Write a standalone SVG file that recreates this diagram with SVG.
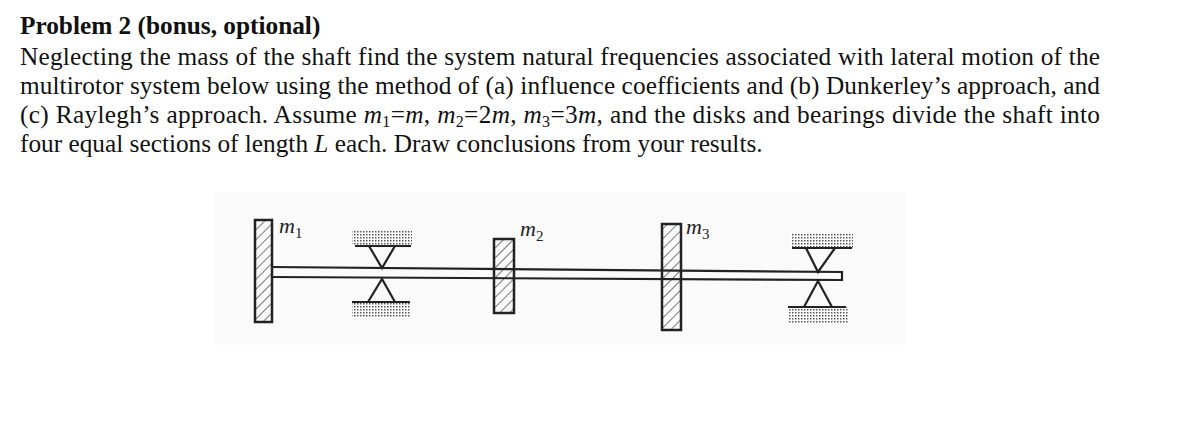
<svg xmlns="http://www.w3.org/2000/svg" width="1179" height="436" viewBox="0 0 1179 436">
<defs>
<pattern id="hatch" width="7" height="7" patternUnits="userSpaceOnUse" patternTransform="rotate(45)"><line x1="0" y1="0" x2="0" y2="7" stroke="#222" stroke-width="1.2"/></pattern>
<pattern id="dots" width="3" height="3" patternUnits="userSpaceOnUse"><rect width="3" height="3" fill="#fff"/><rect width="1.5" height="1.5" fill="#555"/></pattern>
</defs>
<style>
.t{font-family:"Liberation Serif",serif;font-size:25.3px;fill:#111}
.i{font-style:italic}
.s{font-size:16px}
.m{font-family:"Liberation Serif",serif;font-size:22px;font-style:italic;fill:#222}
.disk{fill:url(#hatch);stroke:#222;stroke-width:2.5}
.ln{stroke:#222;stroke-width:2.2;fill:none}
</style>
<rect width="1179" height="436" fill="#fff"/>
<text class="t" x="20" y="34" font-weight="bold">Problem 2 (bonus, optional)</text>
<text class="t" x="20" y="65" textLength="1080" lengthAdjust="spacing">Neglecting the mass of the shaft find the system natural frequencies associated with lateral motion of the</text>
<text class="t" x="20" y="94" textLength="1080" lengthAdjust="spacing">multirotor system below using the method of (a) influence coefficients and (b) Dunkerley’s approach, and</text>
<text class="t" x="20" y="123" textLength="1080" lengthAdjust="spacing">(c) Raylegh’s approach. Assume <tspan class="i">m</tspan><tspan class="s" dy="4">1</tspan><tspan dy="-4">=</tspan><tspan class="i">m</tspan>, <tspan class="i">m</tspan><tspan class="s" dy="4">2</tspan><tspan dy="-4">=2</tspan><tspan class="i">m</tspan>, <tspan class="i">m</tspan><tspan class="s" dy="4">3</tspan><tspan dy="-4">=3</tspan><tspan class="i">m</tspan>, and the disks and bearings divide the shaft into</text>
<text class="t" x="20" y="152">four equal sections of length <tspan class="i">L</tspan> each.  Draw conclusions from your results.</text>
<rect x="215" y="193" width="690" height="152" fill="#fafafa"/>
<g id="connectors">
<path class="ln" d="M272 267 L842 272 L842 280 L272 277" fill="#fff"/>
</g>
<g id="m1"><rect class="disk" x="255" y="220" width="17" height="102"/><text class="m" x="279" y="233">m<tspan font-size="15" font-style="normal" dy="5">1</tspan></text></g>
<g id="m2"><rect class="disk" x="494" y="239" width="20" height="74"/><text class="m" x="520" y="236">m<tspan font-size="15" font-style="normal" dy="5">2</tspan></text></g>
<g id="m3"><rect class="disk" x="662" y="224" width="19" height="106"/><text class="m" x="686" y="234">m<tspan font-size="15" font-style="normal" dy="5">3</tspan></text></g>
<g id="bearing1">
<rect x="352" y="231" width="60" height="15" fill="url(#dots)"/><line class="ln" x1="355" y1="246" x2="411" y2="246"/>
<path class="ln" d="M369 246 L382 268 L395 246"/>
<rect x="352" y="302" width="58" height="16" fill="url(#dots)"/><line class="ln" x1="352" y1="302" x2="410" y2="302"/>
<path class="ln" d="M368 302 L382 279 L395 302"/>
</g>
<g id="bearing2">
<rect x="791" y="233" width="62" height="15" fill="url(#dots)"/><line class="ln" x1="792" y1="248" x2="852" y2="248"/>
<path class="ln" d="M806 248 L818 272 L835 248"/>
<rect x="788" y="307" width="60" height="16" fill="url(#dots)"/><line class="ln" x1="788" y1="307" x2="846" y2="307"/>
<path class="ln" d="M804 307 L818 281 L832 307"/>
</g>
</svg>
